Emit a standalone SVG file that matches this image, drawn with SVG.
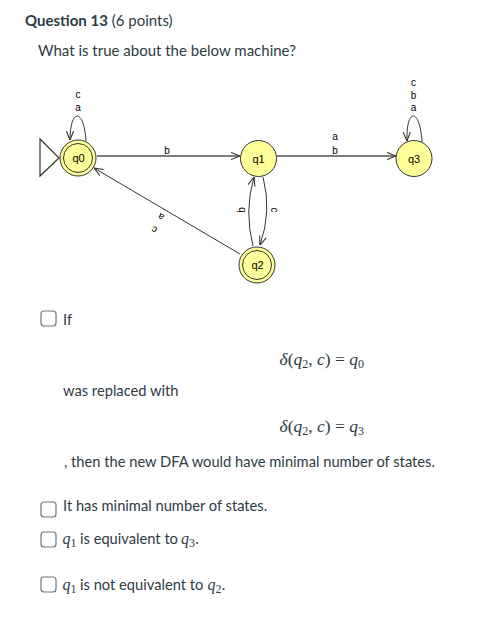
<svg xmlns="http://www.w3.org/2000/svg" width="487" height="620" viewBox="0 0 487 620">
<style>
.t{font-family:Lato,"Open Sans","Liberation Sans",sans-serif;font-size:14.7px;fill:#2d3b45}
.b{font-weight:bold}
.m{font-family:"Liberation Serif","DejaVu Serif",serif;font-size:17.5px;fill:#2d3b45}
.mi{font-style:italic}
.sub{font-size:12px}
.st{fill:#ffff99;stroke:#333;stroke-width:1}
.nl{font-family:"Liberation Sans",Arial,sans-serif;font-size:11px;fill:#000;text-anchor:middle}
.el{font-family:"Liberation Sans",Arial,sans-serif;font-size:10px;fill:#000;text-anchor:middle}
.e{fill:none;stroke:#333;stroke-width:1}
.eg{fill:none;stroke:#555;stroke-width:1.3}
.cb{fill:#fff;stroke:#6b7780;stroke-width:1.2}
</style>
<defs>
<marker id="ah" viewBox="0 0 10 10" refX="10" refY="5" markerWidth="9" markerHeight="9" markerUnits="userSpaceOnUse" orient="auto">
<path d="M0,1 L10,5 L0,9" fill="none" stroke="#333" stroke-width="1.2"/>
</marker>
</defs>
<rect width="487" height="620" fill="#fff"/>
<text class="t" x="25" y="26" style="font-size:15px"><tspan class="b">Question 13</tspan> (6 points)</text>
<text class="t" x="38" y="56" style="font-size:15px">What is true about the below machine?</text>

<g id="edges">
<line class="eg" x1="97" y1="156" x2="240" y2="156" marker-end="url(#ah)"/>
<text class="el" x="167" y="153.5">b</text>
<line class="eg" x1="277" y1="156" x2="396" y2="156" marker-end="url(#ah)"/>
<text class="el" x="335" y="140">a</text>
<text class="el" x="335" y="153.5">b</text>
<line class="e" x1="240" y1="254" x2="94" y2="168" marker-end="url(#ah)"/>
<text class="el" transform="translate(160.7,217) rotate(211)" dy="0.35em">a</text>
<text class="el" transform="translate(154,230) rotate(211)" dy="0.35em">c</text>
<path class="e" d="M263,177 Q272,211 260,245" marker-end="url(#ah)"/>
<text class="el" transform="translate(274.7,210) rotate(90)" dy="0.35em">c</text>
<path class="e" d="M253,246 Q244,211 254,177" marker-end="url(#ah)"/>
<text class="el" transform="translate(241.7,210) rotate(-90)" dy="0.35em">b</text>
<path class="e" d="M86,141 C84,108 70,108 70,140" marker-end="url(#ah)"/>
<text class="el" x="78" y="98">c</text>
<text class="el" x="78" y="110.5">a</text>
<path class="e" d="M422,142 C420,107.5 406,107.5 407,141" marker-end="url(#ah)"/>
<text class="el" x="413.5" y="85.5">c</text>
<text class="el" x="413.5" y="98.5">b</text>
<text class="el" x="413.5" y="110.5">a</text>
</g>

<g id="q0">
<path d="M40,139 L59,158 L40,176 Z" fill="none" stroke="#333" stroke-width="1.2"/>
<circle class="st" cx="78" cy="158" r="18"/>
<circle class="st" cx="78" cy="158" r="14.5"/>
<text class="nl" x="78.5" y="162">q0</text>
</g>
<g id="q1">
<circle class="st" cx="258.5" cy="158.5" r="18"/>
<text class="nl" x="258.5" y="162.5">q1</text>
</g>
<g id="q2">
<circle class="st" cx="257" cy="265" r="18"/>
<circle class="st" cx="257" cy="265" r="14.5"/>
<text class="nl" x="257.5" y="269">q2</text>
</g>
<g id="q3">
<circle class="st" cx="414" cy="158.5" r="18"/>
<text class="nl" x="414" y="162.5">q3</text>
</g>

<rect class="cb" x="41" y="311" width="15" height="15" rx="3"/>
<text class="t" x="63" y="325">If</text>
<text class="m" x="279.5" y="365"><tspan class="mi">δ</tspan>(<tspan class="mi">q</tspan><tspan class="sub" dy="3">2</tspan><tspan dy="-3">, </tspan><tspan class="mi">c</tspan>) = <tspan class="mi">q</tspan><tspan class="sub" dy="3">0</tspan></text>
<text class="t" x="63" y="396">was replaced with</text>
<text class="m" x="279.5" y="431.5"><tspan class="mi">δ</tspan>(<tspan class="mi">q</tspan><tspan class="sub" dy="3">2</tspan><tspan dy="-3">, </tspan><tspan class="mi">c</tspan>) = <tspan class="mi">q</tspan><tspan class="sub" dy="3">3</tspan></text>
<text class="t" x="64" y="467">, then the new DFA would have minimal number of states.</text>

<rect class="cb" x="41" y="502" width="15" height="15" rx="3"/>
<text class="t" x="63" y="511">It has minimal number of states.</text>

<rect class="cb" x="41" y="532" width="15" height="15" rx="3"/>
<text class="m" x="62.5" y="543.5" style="font-size:16px"><tspan class="mi">q</tspan><tspan class="sub" dy="3">1</tspan></text>
<text class="t" x="80" y="543.5">is equivalent to</text>
<text class="m" x="181" y="543.5" style="font-size:16px"><tspan class="mi">q</tspan><tspan class="sub" dy="3">3</tspan><tspan dy="-3">.</tspan></text>

<rect class="cb" x="41" y="577" width="15" height="15" rx="3"/>
<text class="m" x="62.5" y="590" style="font-size:16px"><tspan class="mi">q</tspan><tspan class="sub" dy="3">1</tspan></text>
<text class="t" x="80" y="590">is not equivalent to</text>
<text class="m" x="207.5" y="590" style="font-size:16px"><tspan class="mi">q</tspan><tspan class="sub" dy="3">2</tspan><tspan dy="-3">.</tspan></text>
</svg>
